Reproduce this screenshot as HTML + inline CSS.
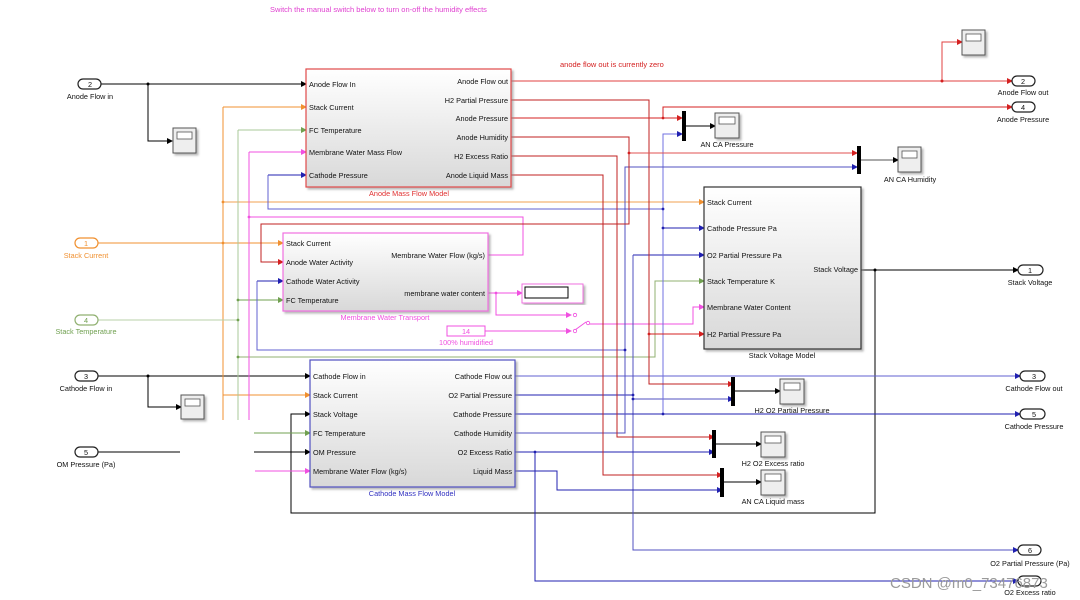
<!DOCTYPE html>
<html><head><meta charset="utf-8"><style>
html,body{margin:0;padding:0;background:#fff;}
svg{display:block;font-family:"Liberation Sans",sans-serif;}
text{font-size:7.3px;}
</style></head><body>
<svg width="1080" height="600" viewBox="0 0 1080 600" xmlns="http://www.w3.org/2000/svg">
<defs>
<marker id="ak" markerWidth="6" markerHeight="6" refX="5" refY="3" orient="auto" markerUnits="userSpaceOnUse"><path d="M0,0 L6,3 L0,6 Z" fill="#000"/></marker>
<marker id="ar" markerWidth="6" markerHeight="6" refX="5" refY="3" orient="auto" markerUnits="userSpaceOnUse"><path d="M0,0 L6,3 L0,6 Z" fill="#d42020"/></marker>
<marker id="ab" markerWidth="6" markerHeight="6" refX="5" refY="3" orient="auto" markerUnits="userSpaceOnUse"><path d="M0,0 L6,3 L0,6 Z" fill="#2020b0"/></marker>
<marker id="ao" markerWidth="6" markerHeight="6" refX="5" refY="3" orient="auto" markerUnits="userSpaceOnUse"><path d="M0,0 L6,3 L0,6 Z" fill="#f09030"/></marker>
<marker id="ag" markerWidth="6" markerHeight="6" refX="5" refY="3" orient="auto" markerUnits="userSpaceOnUse"><path d="M0,0 L6,3 L0,6 Z" fill="#70a050"/></marker>
<marker id="ap" markerWidth="6" markerHeight="6" refX="5" refY="3" orient="auto" markerUnits="userSpaceOnUse"><path d="M0,0 L6,3 L0,6 Z" fill="#f050e0"/></marker>
<linearGradient id="gr" x1="0" y1="0" x2="0" y2="1"><stop offset="0" stop-color="#fff"/><stop offset="1" stop-color="#d8d8d8"/></linearGradient>
<filter id="sh"><feDropShadow dx="2" dy="2" stdDeviation="1" flood-color="#888" flood-opacity="0.6"/></filter>
</defs>

<!-- title texts -->
<text x="270" y="12" fill="#e040d0" style="font-size:7.5px">Switch the manual switch below to turn on-off the humidity effects</text>
<text x="560" y="67" fill="#d42020" style="font-size:7.5px">anode flow out is currently zero</text>

<g fill="none" stroke-width="1">
<!-- black -->
<path d="M101,84 H306" stroke="#000" marker-end="url(#ak)"/>
<path d="M148,84 V141 H172" stroke="#000" marker-end="url(#ak)"/>
<path d="M98,376 H310" stroke="#000" marker-end="url(#ak)"/>
<path d="M148,376 V407 H181" stroke="#000" marker-end="url(#ak)"/>
<path d="M98,452 H180" stroke="#000"/>
<path d="M254,452 H310" stroke="#000" marker-end="url(#ak)"/>
<path d="M861,270 H1018" stroke="#000" marker-end="url(#ak)"/>
<path d="M875,270 V513 H291 V414 H310" stroke="#000" marker-end="url(#ak)"/>
<path d="M686,126 H715" stroke="#000" marker-end="url(#ak)"/>
<path d="M860,160 H898" stroke="#555" marker-end="url(#ak)"/>
<path d="M735,391 H780" stroke="#000" marker-end="url(#ak)"/>
<path d="M716,444 H761" stroke="#000" marker-end="url(#ak)"/>
<path d="M724,482 H761" stroke="#000" marker-end="url(#ak)"/>

<!-- orange -->
<path d="M98,243 H283" stroke="#f09030" marker-end="url(#ao)"/>
<path d="M223,107 H306" stroke="#f09030" marker-end="url(#ao)"/>
<path d="M223,107 V420" stroke="#f09030"/>
<path d="M223,202 H704" stroke="#f0a050" marker-end="url(#ao)"/>
<path d="M223,395 H310" stroke="#f09030" marker-end="url(#ao)"/>

<!-- green -->
<path d="M98,320 H238" stroke="#b8d0a8"/>
<path d="M238,130 H306" stroke="#a8c898" marker-end="url(#ag)"/>
<path d="M238,130 V420" stroke="#a8c898"/>
<path d="M238,300 H283" stroke="#70a050" marker-end="url(#ag)"/>
<path d="M238,357 H655 V281 H704" stroke="#90b070" marker-end="url(#ag)"/>
<path d="M254,433 H310" stroke="#70a050" marker-end="url(#ag)"/>

<!-- pink -->
<path d="M249,152 H306" stroke="#f050e0" marker-end="url(#ap)"/>
<path d="M249,152 V420" stroke="#f050e0"/>
<path d="M488,255 H523 V217 H249" stroke="#f050e0"/>
<path d="M255,471 H310" stroke="#f050e0" marker-end="url(#ap)"/>
<path d="M488,293 H522" stroke="#f050e0" marker-end="url(#ap)"/>
<path d="M496,293 V315 H571" stroke="#f050e0" marker-end="url(#ap)"/>
<path d="M485,331 H571" stroke="#f050e0" marker-end="url(#ap)"/>
<path d="M575,330 L586,322" stroke="#f050e0"/>
<path d="M589,324 H693 V307 H704" stroke="#f050e0" marker-end="url(#ap)"/>

<!-- blue -->
<path d="M268,175 H306" stroke="#2020b0" marker-end="url(#ab)"/>
<path d="M268,175 V209 H663" stroke="#6060d0"/>
<path d="M257,281 H283" stroke="#2020b0" marker-end="url(#ab)"/>
<path d="M257,281 V350 H625" stroke="#6060d0"/>
<path d="M515,376 H1020" stroke="#6060d0" marker-end="url(#ab)"/>
<path d="M515,395 H633" stroke="#2020b0"/>
<path d="M633,399 H733" stroke="#5050c0" marker-end="url(#ab)"/>
<path d="M633,255 H704" stroke="#2020b0" marker-end="url(#ab)"/>
<path d="M633,255 V550 H1018" stroke="#5050c0" marker-end="url(#ab)"/>
<path d="M515,414 H1020" stroke="#2020b0" marker-end="url(#ab)"/>
<path d="M663,414 V134 H682" stroke="#7070e0" marker-end="url(#ab)"/>
<path d="M663,228 H704" stroke="#2020b0" marker-end="url(#ab)"/>
<path d="M515,433 H625 V167 H857" stroke="#5050c0" marker-end="url(#ab)"/>
<path d="M515,452 H714" stroke="#2020b0" marker-end="url(#ab)"/>
<path d="M535,452 V581 H1018" stroke="#2020b0" marker-end="url(#ab)"/>
<path d="M515,471 H557 V490 H722" stroke="#2020b0" marker-end="url(#ab)"/>

<!-- red -->
<path d="M511,81 H1012" stroke="#e04040" marker-end="url(#ar)"/>
<path d="M942,81 V42 H962" stroke="#e04040" marker-end="url(#ar)"/>
<path d="M511,100 H649 V384 H733" stroke="#c02020" marker-end="url(#ar)"/>
<path d="M649,334 H704" stroke="#d42020" marker-end="url(#ar)"/>
<path d="M511,118 H682" stroke="#d42020" marker-end="url(#ar)"/>
<path d="M663,118 V107 H1012" stroke="#d42020" marker-end="url(#ar)"/>
<path d="M511,137 H629 V224 H261 V262 H283" stroke="#c02020" marker-end="url(#ar)"/>
<path d="M629,153 H857" stroke="#e05050" marker-end="url(#ar)"/>
<path d="M511,156 H617 V437 H714" stroke="#c02020" marker-end="url(#ar)"/>
<path d="M511,175 H603 V475 H722" stroke="#c02020" marker-end="url(#ar)"/>
</g>

<!-- junction dots -->
<g fill="#000">
<circle cx="148" cy="84" r="1.5"/><circle cx="148" cy="376" r="1.5"/><circle cx="875" cy="270" r="1.5"/>
</g>
<g>
<circle cx="223" cy="243" r="1.4" fill="#f09030"/><circle cx="223" cy="202" r="1.4" fill="#f09030"/>
<circle cx="238" cy="320" r="1.4" fill="#70a050"/><circle cx="238" cy="300" r="1.4" fill="#70a050"/><circle cx="238" cy="357" r="1.4" fill="#70a050"/>
<circle cx="249" cy="217" r="1.4" fill="#f050e0"/><circle cx="496" cy="293" r="1.4" fill="#f050e0"/>
<circle cx="942" cy="81" r="1.5" fill="#d42020"/><circle cx="663" cy="118" r="1.4" fill="#d42020"/><circle cx="629" cy="153" r="1.4" fill="#d42020"/><circle cx="649" cy="334" r="1.4" fill="#d42020"/>
<circle cx="663" cy="209" r="1.4" fill="#2020b0"/><circle cx="663" cy="228" r="1.4" fill="#2020b0"/><circle cx="663" cy="414" r="1.4" fill="#2020b0"/>
<circle cx="625" cy="350" r="1.4" fill="#2020b0"/><circle cx="633" cy="395" r="1.4" fill="#2020b0"/><circle cx="633" cy="399" r="1.4" fill="#2020b0"/><circle cx="535" cy="452" r="1.4" fill="#2020b0"/>
</g>

<!-- switch circles -->
<g fill="#fff" stroke="#f050e0" stroke-width="0.8">
<circle cx="575" cy="315" r="1.7"/><circle cx="575" cy="331" r="1.7"/><circle cx="588" cy="323" r="1.7"/>
</g>

<!-- Anode block -->
<rect x="306" y="69" width="205" height="118" fill="url(#gr)" stroke="#e04848" stroke-width="1.2" filter="url(#sh)"/>
<g fill="#111">
<text x="309" y="87">Anode Flow In</text><text x="309" y="110">Stack Current</text><text x="309" y="133">FC Temperature</text>
<text x="309" y="155">Membrane Water Mass Flow</text><text x="309" y="178">Cathode Pressure</text>
</g>
<g fill="#111" text-anchor="end">
<text x="508" y="84">Anode Flow out</text><text x="508" y="103">H2 Partial Pressure</text><text x="508" y="121">Anode Pressure</text>
<text x="508" y="140">Anode Humidity</text><text x="508" y="159">H2 Excess Ratio</text><text x="508" y="178">Anode Liquid Mass</text>
</g>
<text x="409" y="196" fill="#e03030" text-anchor="middle">Anode Mass Flow Model</text>

<!-- Membrane block -->
<rect x="283" y="233" width="205" height="78" fill="url(#gr)" stroke="#f070e0" stroke-width="1.2" filter="url(#sh)"/>
<g fill="#111">
<text x="286" y="246">Stack Current</text><text x="286" y="265">Anode Water Activity</text><text x="286" y="284">Cathode Water Activity</text><text x="286" y="303">FC Temperature</text>
</g>
<g fill="#111" text-anchor="end"><text x="485" y="258">Membrane Water Flow (kg/s)</text><text x="485" y="296">membrane water content</text></g>
<text x="385" y="320" fill="#f050e0" text-anchor="middle">Membrane Water Transport</text>

<!-- display -->
<rect x="522" y="284" width="61" height="19" fill="#fff" stroke="#f070e0" filter="url(#sh)"/>
<rect x="525" y="287" width="43" height="11" fill="#fff" stroke="#000"/>
<!-- constant -->
<rect x="447" y="326" width="38" height="10" fill="#fff" stroke="#f050e0"/>
<text x="466" y="334" fill="#f050e0" text-anchor="middle">14</text>
<text x="466" y="345" fill="#f050e0" text-anchor="middle">100% humidified</text>

<!-- Cathode block -->
<rect x="310" y="360" width="205" height="127" fill="url(#gr)" stroke="#5050c0" stroke-width="1.2" filter="url(#sh)"/>
<g fill="#111">
<text x="313" y="379">Cathode Flow in</text><text x="313" y="398">Stack Current</text><text x="313" y="417">Stack Voltage</text>
<text x="313" y="436">FC Temperature</text><text x="313" y="455">OM Pressure</text><text x="313" y="474">Membrane Water Flow (kg/s)</text>
</g>
<g fill="#111" text-anchor="end">
<text x="512" y="379">Cathode Flow out</text><text x="512" y="398">O2 Partial Pressure</text><text x="512" y="417">Cathode Pressure</text>
<text x="512" y="436">Cathode Humidity</text><text x="512" y="455">O2 Excess Ratio</text><text x="512" y="474">Liquid Mass</text>
</g>
<text x="412" y="496" fill="#3030c0" text-anchor="middle">Cathode Mass Flow Model</text>

<!-- Stack voltage block -->
<rect x="704" y="187" width="157" height="162" fill="url(#gr)" stroke="#333" stroke-width="1.2" filter="url(#sh)"/>
<g fill="#111">
<text x="707" y="205">Stack Current</text><text x="707" y="231">Cathode Pressure Pa</text><text x="707" y="258">O2 Partial Pressure Pa</text>
<text x="707" y="284">Stack Temperature K</text><text x="707" y="310">Membrane Water Content</text><text x="707" y="337">H2 Partial Pressure Pa</text>
</g>
<text x="858" y="272" fill="#111" text-anchor="end">Stack Voltage</text>
<text x="782" y="358" fill="#111" text-anchor="middle">Stack Voltage Model</text>

<!-- muxes -->
<g fill="#000">
<rect x="682" y="111" width="4" height="30"/><rect x="857" y="146" width="4" height="28"/>
<rect x="731" y="377" width="4" height="29"/><rect x="712" y="430" width="4" height="28"/><rect x="720" y="468" width="4" height="29"/>
</g>

<!-- scopes -->
<g fill="#eee" stroke="#555" stroke-width="1" filter="url(#sh)">
<rect x="173" y="128" width="23" height="25"/><rect x="181" y="395" width="23" height="24"/>
<rect x="962" y="30" width="23" height="25"/><rect x="715" y="113" width="24" height="25"/>
<rect x="898" y="147" width="23" height="25"/><rect x="780" y="379" width="24" height="25"/>
<rect x="761" y="432" width="24" height="25"/><rect x="761" y="470" width="24" height="25"/>
</g>
<g fill="#fff" stroke="#555" stroke-width="0.8">
<rect x="177" y="132" width="15" height="7"/><rect x="185" y="399" width="15" height="7"/>
<rect x="966" y="34" width="15" height="7"/><rect x="719" y="117" width="16" height="7"/>
<rect x="902" y="151" width="15" height="7"/><rect x="784" y="383" width="16" height="7"/>
<rect x="765" y="436" width="16" height="7"/><rect x="765" y="474" width="16" height="7"/>
</g>
<g fill="#111" text-anchor="middle">
<text x="727" y="147">AN CA Pressure</text><text x="910" y="182">AN CA Humidity</text>
<text x="792" y="413">H2 O2 Partial Pressure</text><text x="773" y="466">H2 O2 Excess ratio</text><text x="773" y="504">AN CA Liquid mass</text>
</g>

<!-- ports -->
<g fill="#fff" stroke-width="1.2">
<rect x="78" y="79" width="23" height="10" rx="5" stroke="#222"/>
<rect x="75" y="238" width="23" height="10" rx="5" stroke="#f09030"/>
<rect x="75" y="315" width="23" height="10" rx="5" stroke="#90b070"/>
<rect x="75" y="371" width="23" height="10" rx="5" stroke="#222"/>
<rect x="75" y="447" width="23" height="10" rx="5" stroke="#222"/>
<rect x="1012" y="76" width="23" height="10" rx="5" stroke="#222"/>
<rect x="1012" y="102" width="23" height="10" rx="5" stroke="#222"/>
<rect x="1018" y="265" width="25" height="10" rx="5" stroke="#222"/>
<rect x="1020" y="371" width="25" height="10" rx="5" stroke="#222"/>
<rect x="1020" y="409" width="25" height="10" rx="5" stroke="#222"/>
<rect x="1018" y="545" width="23" height="10" rx="5" stroke="#222"/>
<rect x="1018" y="576" width="23" height="10" rx="5" stroke="#222"/>
</g>
<g text-anchor="middle">
<text x="90" y="87" fill="#111">2</text><text x="90" y="99" fill="#111">Anode Flow in</text>
<text x="86" y="246" fill="#f09030">1</text><text x="86" y="258" fill="#f09030">Stack Current</text>
<text x="86" y="323" fill="#70a050">4</text><text x="86" y="334" fill="#70a050">Stack Temperature</text>
<text x="86" y="379" fill="#111">3</text><text x="86" y="391" fill="#111">Cathode Flow in</text>
<text x="86" y="455" fill="#111">5</text><text x="86" y="467" fill="#111">OM Pressure (Pa)</text>
<text x="1023" y="84" fill="#111">2</text><text x="1023" y="95" fill="#111">Anode Flow out</text>
<text x="1023" y="110" fill="#111">4</text><text x="1023" y="122" fill="#111">Anode Pressure</text>
<text x="1030" y="273" fill="#111">1</text><text x="1030" y="285" fill="#111">Stack Voltage</text>
<text x="1034" y="379" fill="#111">3</text><text x="1034" y="391" fill="#111">Cathode Flow out</text>
<text x="1034" y="417" fill="#111">5</text><text x="1034" y="429" fill="#111">Cathode Pressure</text>
<text x="1030" y="553" fill="#111">6</text><text x="1030" y="566" fill="#111">O2 Partial Pressure (Pa)</text>
<text x="1030" y="595" fill="#111">O2 Excess ratio</text>
</g>

<text x="890" y="588" fill="#9a9a9a" style="font-size:15px">CSDN @m0_73476873</text>
</svg>
</body></html>
